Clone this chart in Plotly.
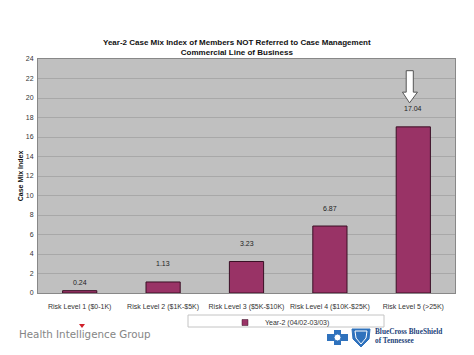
import plotly.graph_objects as go

categories = ["Risk Level 1 ($0-1K)", "Risk Level 2 ($1K-$5K)", "Risk Level 3 ($5K-$10K)",
              "Risk Level 4 ($10K-$25K)", "Risk Level 5 (>25K)"]
values = [0.24, 1.13, 3.23, 6.87, 17.04]
labels = ["0.24", "1.13", "3.23", "6.87", "17.04"]
series_name = "Year-2 (04/02-03/03)"
y_ticks = list(range(0, 25, 2))

W, H = 474, 355
L, R, T, B = 38, 19, 59, 62
pw, ph = W - L - R, H - T - B

def px(x):
    return (x - L) / pw

def py(y):
    return (H - B - y) / ph

BAR_COLOR = "#993366"

fig = go.Figure()
fig.add_trace(go.Bar(
    x=categories, y=values, name=series_name,
    marker=dict(color=BAR_COLOR, line=dict(color="#3a1025", width=1)),
    width=0.41, showlegend=False,
))
# legend proxy with small square symbol
fig.add_trace(go.Scatter(
    x=[None], y=[None], mode="markers", name=series_name,
    marker=dict(symbol="square", size=6, color=BAR_COLOR, line=dict(color="#3a1025", width=0.5)),
    showlegend=True,
))

for i, (c, v, t) in enumerate(zip(categories, values, labels)):
    fig.add_annotation(x=c, y=v, text=t, showarrow=False, yshift=(8 if i == 0 else 18),
                       font=dict(size=7, color="#222"), xref="x", yref="y")

# hollow arrow over bar 5 (category index 4)
ax = 4
path = (f"M {ax-0.085},22.8 L {ax},22.8 L {ax},20.6 L {ax+0.05},20.6 "
        f"L {ax-0.045},19.5 L {ax-0.13},20.6 L {ax-0.085},20.6 Z")
fig.add_shape(type="path", path=path, xref="x", yref="y",
              fillcolor="white", line=dict(color="#555", width=1))

# legend box
fig.add_shape(type="rect", xref="paper", yref="paper",
              x0=px(188), x1=px(384), y0=py(327), y1=py(315),
              fillcolor="white", line=dict(color="#c4c4c4", width=1))

# title
fig.add_annotation(text="<b>Year-2 Case Mix Index of Members NOT Referred to Case Management</b><br><b>Commercial Line of Business</b>",
                   xref="paper", yref="paper", x=px(237), y=py(36), yanchor="top",
                   showarrow=False, font=dict(size=8, color="#111"), align="center")

# footer logos (text)
fig.add_annotation(text="Health Intelligence Group", xref="paper", yref="paper",
                   x=px(17), y=py(334), xanchor="left", yanchor="middle", showarrow=False,
                   font=dict(size=10.3, color="#858585", family="DejaVu Sans"))
fig.add_shape(type="path", xref="paper", yref="paper",
              path=f"M {px(79)},{py(324)} L {px(85)},{py(324)} L {px(82)},{py(328)} Z",
              fillcolor="#d0202a", line=dict(width=0))
# BlueCross / BlueShield marks
fig.add_shape(type="rect", xref="paper", yref="paper",
              x0=px(327), x1=px(348), y0=py(341), y1=py(334),
              fillcolor="#2f72bd", line=dict(width=0))
fig.add_shape(type="rect", xref="paper", yref="paper",
              x0=px(334), x1=px(341), y0=py(345), y1=py(330),
              fillcolor="#2f72bd", line=dict(width=0))
fig.add_shape(type="circle", xref="paper", yref="paper",
              x0=px(334), x1=px(341), y0=py(341), y1=py(334),
              fillcolor="white", line=dict(color="#2f72bd", width=1))
fig.add_shape(type="path", xref="paper", yref="paper",
              path=(f"M {px(352)},{py(329)} L {px(370)},{py(329)} L {px(369)},{py(339)} "
                    f"L {px(361)},{py(347)} L {px(353)},{py(339)} Z"),
              fillcolor="#2f72bd", line=dict(color="#2f72bd", width=1))
fig.add_shape(type="path", xref="paper", yref="paper",
              path=(f"M {px(355)},{py(331)} L {px(367)},{py(331)} L {px(366)},{py(338)} "
                    f"L {px(361)},{py(344)} L {px(356)},{py(338)} Z"),
              fillcolor="rgba(0,0,0,0)", line=dict(color="white", width=1))
fig.add_annotation(text="<b>BlueCross BlueShield</b><br><b>of Tennessee</b>", xref="paper", yref="paper",
                   x=px(373), y=py(336), xanchor="left", yanchor="middle", showarrow=False, align="left",
                   font=dict(size=7.3, color="#1d3f7a", family="Liberation Serif"))

fig.update_layout(
    width=W, height=H,
    margin=dict(l=L, r=R, t=T, b=B, autoexpand=False),
    paper_bgcolor="white", plot_bgcolor="#c0c0c0",
    font=dict(family="Liberation Sans, Arial", size=7, color="#333"),
    bargap=0.59,
    showlegend=True,
    legend=dict(x=px(225), y=py(308), xanchor="left", yanchor="top",
                bgcolor="rgba(0,0,0,0)", borderwidth=0,
                font=dict(size=7, color="#333"), itemwidth=30),
    xaxis=dict(showgrid=False, ticks="outside", ticklen=7, tickcolor="rgba(0,0,0,0)",
               showline=True, linecolor="#888",
               tickfont=dict(size=7, color="#333"), mirror=True),
    yaxis=dict(range=[0, 24], tickvals=y_ticks, showgrid=True, gridcolor="#a8a8a8",
               gridwidth=1, showline=True, linecolor="#888", mirror=True,
               ticks="outside", ticklen=2, tickcolor="rgba(0,0,0,0)",
               tickfont=dict(size=7, color="#333"),
               title=dict(text="<b>Case Mix Index</b>", font=dict(size=7, color="#111"), standoff=1),
               zeroline=False),
)

fig.write_html("out.html", config={"displayModeBar": False},
               post_script="document.body.style.margin='0';document.body.style.overflow='hidden';")
